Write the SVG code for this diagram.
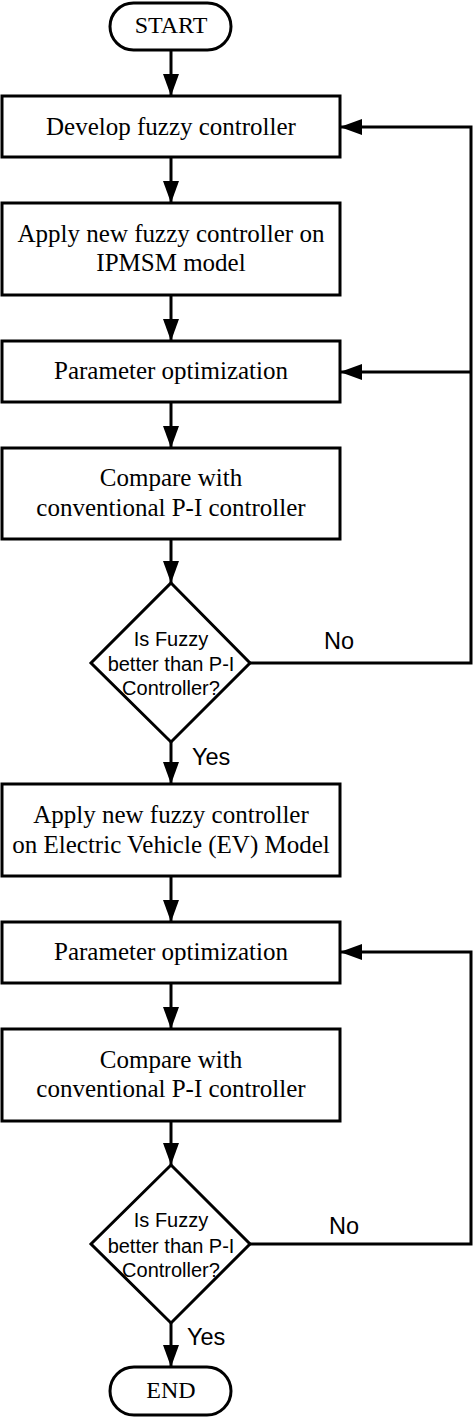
<svg xmlns="http://www.w3.org/2000/svg" width="474" height="1418" viewBox="0 0 474 1418">
<style>
.box{fill:#fff;stroke:#000;stroke-width:3}
.t{font-family:"Liberation Serif","Times New Roman",serif;font-size:25px;fill:#000;text-anchor:middle}
.s{font-family:"Liberation Sans",Arial,sans-serif;font-size:20px;fill:#000;text-anchor:middle}
.l{font-family:"Liberation Sans",Arial,sans-serif;font-size:23.5px;fill:#000}
.c{fill:none;stroke:#000;stroke-width:3}
</style>
<defs>
<marker id="ah" markerUnits="userSpaceOnUse" markerWidth="24" markerHeight="16" refX="22" refY="8" orient="auto">
<path d="M0,0 L22,8 L0,16 z" fill="#000"/>
</marker>
</defs>
<rect width="474" height="1418" fill="#fff"/>
<g id="connectors">
<path class="c" d="M171,50 V96" marker-end="url(#ah)"/>
<path class="c" d="M171,157 V203" marker-end="url(#ah)"/>
<path class="c" d="M171,295 V341" marker-end="url(#ah)"/>
<path class="c" d="M171,402 V448" marker-end="url(#ah)"/>
<path class="c" d="M171,539 V583" marker-end="url(#ah)"/>
<path class="c" d="M171,742 V784" marker-end="url(#ah)"/>
<path class="c" d="M171,876 V922" marker-end="url(#ah)"/>
<path class="c" d="M171,983 V1029" marker-end="url(#ah)"/>
<path class="c" d="M171,1121 V1165" marker-end="url(#ah)"/>
<path class="c" d="M171,1323 V1367" marker-end="url(#ah)"/>
<path class="c" d="M250,663 H471 V127 H340" marker-end="url(#ah)"/>
<path class="c" d="M471,372 H340" marker-end="url(#ah)"/>
<path class="c" d="M250,1244 H471 V952 H340" marker-end="url(#ah)"/>
<text class="l" x="324" y="649">No</text>
<text class="l" x="192" y="765">Yes</text>
<text class="l" x="329" y="1234">No</text>
<text class="l" x="187" y="1345">Yes</text>
</g>
<g id="start">
<rect class="box" x="110" y="3" width="121" height="47" rx="23.5"/>
<text class="t" x="171" y="33" style="font-size:24px">START</text>
</g>
<g id="develop">
<rect class="box" x="2" y="96" width="338" height="61"/>
<text class="t" x="171" y="135">Develop fuzzy controller</text>
</g>
<g id="apply-ipmsm">
<rect class="box" x="2" y="203" width="338" height="92"/>
<text class="t" x="171" y="242">Apply new fuzzy controller on</text>
<text class="t" x="171" y="271">IPMSM model</text>
</g>
<g id="param1">
<rect class="box" x="2" y="341" width="338" height="61"/>
<text class="t" x="171" y="379">Parameter optimization</text>
</g>
<g id="compare1">
<rect class="box" x="2" y="448" width="338" height="91"/>
<text class="t" x="171" y="486">Compare with</text>
<text class="t" x="171" y="516">conventional P-I controller</text>
</g>
<g id="decision1">
<polygon class="box" points="171,583 250,663 171,742 91,663"/>
<text class="s" x="171" y="646">Is Fuzzy</text>
<text class="s" x="171" y="671">better than P-I</text>
<text class="s" x="171" y="695">Controller?</text>
</g>
<g id="apply-ev">
<rect class="box" x="2" y="784" width="338" height="92"/>
<text class="t" x="171" y="823">Apply new fuzzy controller</text>
<text class="t" x="171" y="853">on Electric Vehicle (EV) Model</text>
</g>
<g id="param2">
<rect class="box" x="2" y="922" width="338" height="61"/>
<text class="t" x="171" y="960">Parameter optimization</text>
</g>
<g id="compare2">
<rect class="box" x="2" y="1029" width="338" height="92"/>
<text class="t" x="171" y="1068">Compare with</text>
<text class="t" x="171" y="1097">conventional P-I controller</text>
</g>
<g id="decision2">
<polygon class="box" points="171,1165 250,1244 171,1323 91,1244"/>
<text class="s" x="171" y="1227">Is Fuzzy</text>
<text class="s" x="171" y="1253">better than P-I</text>
<text class="s" x="171" y="1277">Controller?</text>
</g>
<g id="end">
<rect class="box" x="110" y="1367" width="121" height="48" rx="24"/>
<text class="t" x="171" y="1398" style="font-size:24px">END</text>
</g>
</svg>
